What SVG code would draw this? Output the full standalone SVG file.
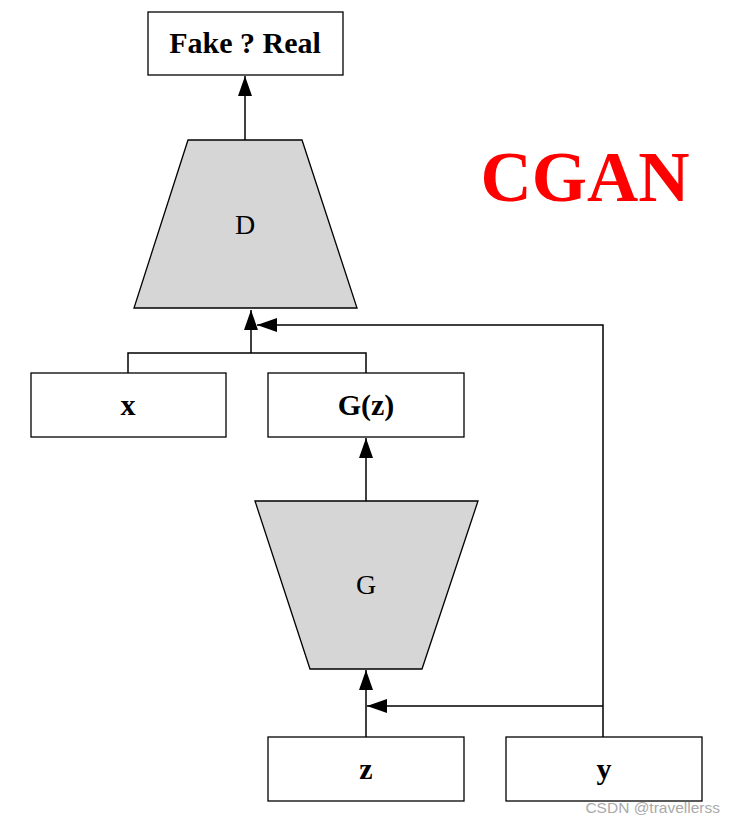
<svg xmlns="http://www.w3.org/2000/svg" width="737" height="823" viewBox="0 0 737 823">
<style>
.box{fill:#fff;stroke:#000;stroke-width:1.3}
.trap{fill:#d6d6d6;stroke:#000;stroke-width:1.3}
.bt{font-family:"Liberation Serif",serif;font-weight:bold;font-size:30px;text-anchor:middle}
.nt{font-family:"Liberation Serif",serif;font-size:28px;text-anchor:middle}
.c{fill:none;stroke:#000;stroke-width:1.5}
</style>
<defs><marker id="b" viewBox="0 0 20 14" refX="20" refY="7" markerWidth="20" markerHeight="14" markerUnits="userSpaceOnUse" orient="auto"><path d="M0,0L20,7L0,14z" fill="#000"/></marker></defs>
<rect width="737" height="823" fill="#fff"/>
<g id="fake"><rect class="box" x="148" y="12" width="195" height="63"/><text class="bt" x="245" y="53">Fake ? Real</text></g>
<g id="D"><polygon class="trap" points="188,140 302,140 357,308 134,308"/><text class="nt" x="245" y="234">D</text></g>
<g id="x"><rect class="box" x="31" y="373" width="195" height="64"/><text class="bt" x="128" y="415">x</text></g>
<g id="Gz"><rect class="box" x="268" y="373" width="196" height="64"/><text class="bt" x="366" y="415">G(z)</text></g>
<g id="G"><polygon class="trap" points="255,501 478,501 422,669 310,669"/><text class="nt" x="366" y="594">G</text></g>
<g id="z"><rect class="box" x="268" y="737" width="196" height="64"/><text class="bt" x="366" y="779">z</text></g>
<g id="y"><rect class="box" x="506" y="737" width="196" height="64"/><text class="bt" x="604" y="779">y</text></g>
<g id="connectors">
<path class="c" d="M245,140V76" marker-end="url(#b)"/>
<path class="c" d="M128,373V353H366V373M251,353V310" marker-end="url(#b)"/>
<path class="c" d="M603,737V325H257" marker-end="url(#b)"/>
<path class="c" d="M366,501V438" marker-end="url(#b)"/>
<path class="c" d="M366,737V670" marker-end="url(#b)"/>
<path class="c" d="M603,706H367" marker-end="url(#b)"/>
</g>
<text x="585" y="201" font-family="Liberation Serif,serif" font-weight="bold" font-size="71" fill="#f00" text-anchor="middle">CGAN</text>
<text x="720" y="813" font-family="Liberation Sans,sans-serif" font-size="15.5" fill="#aaa" text-anchor="end">CSDN @travellerss</text>
</svg>
